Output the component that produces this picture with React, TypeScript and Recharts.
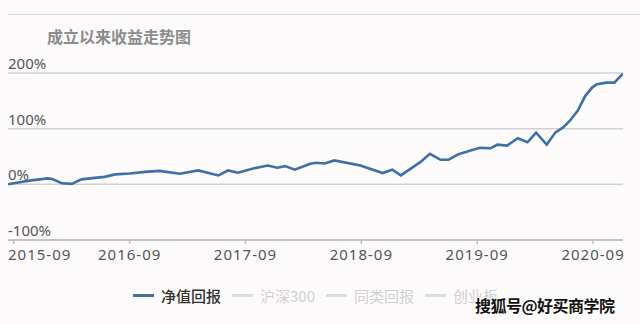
import React from 'react';
import { LineChart, Line, XAxis, YAxis, CartesianGrid } from 'recharts';

// months since 2015-09 (fractional where the point sits between month ticks)
const MONTHS = [
  -0.6, 0.6, 2, 3.5, 4, 5, 6, 7, 8.4, 9.4, 10.5, 12, 13.6, 15.1, 17.2, 19.1, 21.2, 22.2, 23.2,
  24.7, 26.3, 27.3, 28.1, 29.1, 30.7, 31.3, 32.2, 33.2, 35.9, 38.2, 39.2, 40.1, 42.1, 43.1, 44.2,
  45, 46, 47.3, 48.3, 49.4, 50.1, 51.1, 52.2, 53.2, 54.1, 55.2, 56.1, 56.9, 57.6, 58.4, 59.2, 59.9,
  60.4, 61.4, 62.2, 63.1,
];
// 净值回报, %
const NAV_RETURN = [
  0, 3.6, 7.5, 10.7, 9.6, 1.8, 0.9, 8.9, 11.6, 13.4, 17.9, 19.6, 22.3, 24.1, 19.1, 25, 16, 25, 20.9,
  28, 33.9, 29.8, 32.7, 26.3, 37, 38.8, 37.5, 42.9, 33.9, 20.2, 26.3, 16.1, 39.8, 54.8, 44.1,
  44.1, 53.6, 60.7, 65.5, 64.8, 71.4, 69.6, 82.7, 75.5, 92.9, 71.4, 93.4, 102.3, 114.3, 132, 159, 173.8,
  179.8, 182.7, 182.7, 198.8,
];

const X_TICKS = [0, 12, 24, 36, 48, 60];
const X_LABELS = ['2015-09', '2016-09', '2017-09', '2018-09', '2019-09', '2020-09'];
const Y_TICKS = [-100, 0, 100, 200];

const LEGEND_NAMES = ['净值回报', '沪深300', '同类回报', '创业板'];
const LINE_COLOR = '#3d70a6';

const data = MONTHS.map((m, i) => ({ m, nav: NAV_RETURN[i] }));

const YTick = (props: any) => {
  const { y, payload } = props;
  return (
    <text x={8} y={y - 4} fill="#555" fontSize={15} fontFamily="'Noto Sans', sans-serif" textAnchor="start">
      {payload.value}%
    </text>
  );
};

const XTick = (props: any) => {
  const { x, y, payload, index } = props;
  const label = X_LABELS[X_TICKS.indexOf(payload.value)];
  const first = index === 0;
  return (
    <text
      x={first ? 8 : x}
      y={y + 14}
      fill="#555"
      fontSize={15}
      letterSpacing={1}
      fontFamily="'Noto Sans', sans-serif"
      textAnchor={first ? 'start' : 'middle'}
    >
      {label}
    </text>
  );
};

export default function App() {
  return (
    <div style={{ position: 'relative', width: 640, height: 324, background: '#fdfafc', overflow: 'hidden' }}>
      <style>{`body{margin:0}`}</style>
      <div style={{ position: 'absolute', left: 8, right: 0, top: 14, borderTop: '1.5px solid #d4d4d4' }} />
      <div
        style={{
          position: 'absolute', left: 47, top: 27, fontSize: 16, lineHeight: '18px', fontWeight: 700,
          color: '#8c8c8c', fontFamily: "'Noto Sans CJK SC', sans-serif",
        }}
      >
        成立以来收益走势图
      </div>
      <LineChart width={640} height={324} data={data} margin={{ top: 73, right: 17, bottom: 54, left: 7 }}>
        <CartesianGrid horizontal vertical={false} stroke="#d2d2d2" strokeWidth={1.5} />
        <XAxis
          dataKey="m"
          type="number"
          domain={[-0.6, 63.1]}
          ticks={X_TICKS}
          allowDataOverflow
          height={30}
          stroke="#bdbdbd"
          strokeWidth={1.5}
          tickSize={4}
          tick={<XTick />}
          interval={0}
        />
        <YAxis
          type="number"
          domain={[-100, 200]}
          ticks={Y_TICKS}
          width={1}
          axisLine={false}
          tickLine={false}
          tick={<YTick />}
          interval={0}
        />
        <Line
          type="linear"
          dataKey="nav"
          stroke={LINE_COLOR}
          strokeWidth={2.6}
          dot={false}
          isAnimationActive={false}
        />
      </LineChart>
      <div
        style={{
          position: 'absolute', left: 133, top: 285, height: 20, display: 'flex', alignItems: 'center',
          fontFamily: "'Noto Sans CJK SC', sans-serif", fontSize: 15,
        }}
      >
        {LEGEND_NAMES.map((name, i) => (
          <div key={name} style={{ display: 'flex', alignItems: 'center', marginRight: 11 }}>
            <span style={{ display: 'inline-block', width: 21, height: 3, background: i === 0 ? LINE_COLOR : '#dcdcdc', marginRight: 7 }} />
            <span style={{ color: i === 0 ? '#333' : '#cfcfcf', fontWeight: i === 0 ? 500 : 400 }}>{name}</span>
          </div>
        ))}
      </div>
      <div
        style={{
          position: 'absolute', left: 475, top: 293, fontSize: 16, fontWeight: 700, color: '#111',
          fontFamily: "'Noto Sans CJK SC', sans-serif", letterSpacing: -0.5,
          textShadow: '1px 0 #fff, -1px 0 #fff, 0 1px #fff, 0 -1px #fff',
        }}
      >
        搜狐号@好买商学院
      </div>
    </div>
  );
}
